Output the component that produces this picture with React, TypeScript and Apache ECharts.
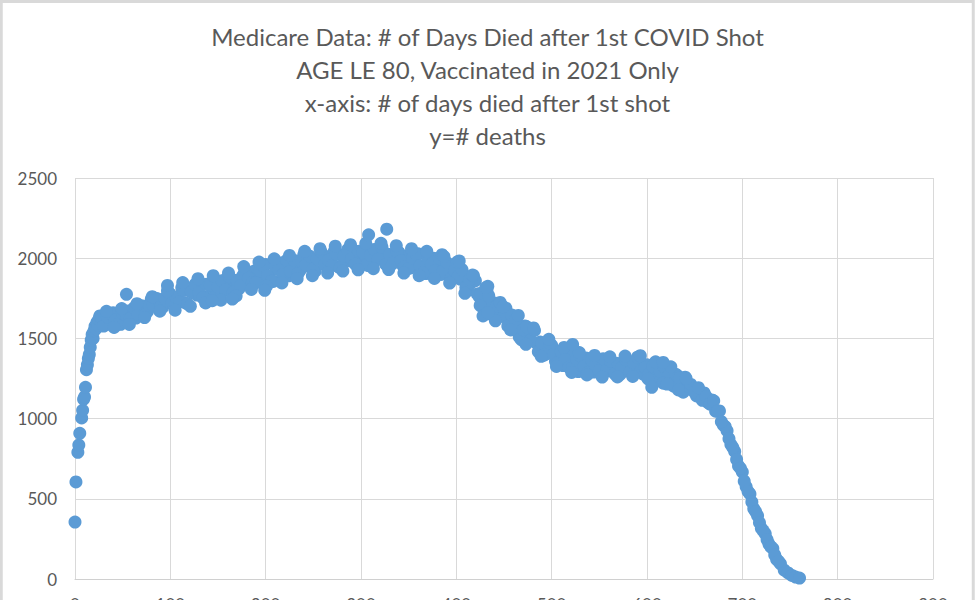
import React, { useEffect, useRef } from "react";
import * as echarts from "echarts";

const titleLines = [
  "Medicare Data: # of Days Died after 1st COVID Shot",
  "AGE LE 80, Vaccinated in 2021 Only",
  "x-axis: # of days died after 1st shot",
  "y=# deaths",
];

const xTicks = [0, 100, 200, 300, 400, 500, 600, 700, 800, 900];
const yTicks = [0, 500, 1000, 1500, 2000, 2500];

// days after 1st shot
const days = [
  0, 1, 3, 4, 5, 7, 8, 9, 10, 11, 12, 13, 14, 15, 16, 17, 18, 19, 20, 21, 22, 23, 24, 25, 26,
  28, 32, 36, 40, 44, 48, 52, 56, 60, 64, 68, 72, 76, 80, 84, 88, 92, 96, 100,
  104, 108, 112, 116, 120, 124, 128, 132, 136, 140, 144, 148, 152, 156, 160, 164, 168, 172, 176, 180, 184,
  188, 192, 196, 200, 204, 208, 212, 216, 220, 224, 228, 232, 236, 240, 244, 248, 252, 256, 260, 264,
  268, 272, 276, 280, 284, 288, 292, 296, 300, 304, 308, 312, 316, 320, 324, 328, 332, 336, 340, 344,
  348, 352, 356, 360, 364, 368, 372, 376, 380, 384, 388, 392, 396, 400,
  404, 408, 412, 416, 420, 424, 428, 432, 436, 440, 444, 448, 452, 456, 460, 464, 468, 472, 476, 480,
  484, 488, 492, 496, 500, 504, 508, 512, 516, 520,
  524, 528, 532, 536, 540, 544, 548, 552, 556, 560, 564, 568, 572, 576, 580, 584, 588, 592, 596, 600,
  604, 608, 612, 616, 620, 624, 628, 632, 636, 640,
  644, 648, 652, 656, 660, 664, 668, 672, 676, 680,
  684, 688, 692, 696, 700, 704, 708, 712, 716, 720, 724, 728, 732, 736, 740, 744, 748, 752, 756, 760,
  682, 686, 690, 694, 698, 702, 706, 710, 714, 718, 722, 726, 730, 734, 738,
  30, 34, 38, 42, 46, 50, 54, 58, 62, 66, 70, 74, 78, 82, 86, 90, 94, 98,
  102, 106, 110, 114, 118, 122, 126, 130, 134, 138, 142, 146, 150, 154, 158, 162, 166, 170, 174, 178, 182, 186,
  190, 194, 198, 202, 206, 210, 214, 218, 222, 226, 230, 234, 238, 242, 246, 250, 254, 258, 262, 266,
  270, 274, 278, 282, 286, 290, 294, 298, 302, 306, 310, 314, 318, 322, 326, 330, 334, 338, 342, 346,
  350, 354, 358, 362, 366, 370, 374, 378, 382, 386, 390, 394, 398,
  402, 406, 410, 414, 418, 422, 426, 430, 434, 438, 442, 446, 450, 454, 458, 462, 466, 470, 474, 478,
  482, 486, 490, 494, 498, 502, 506, 510, 514, 518,
  522, 526, 530, 534, 538, 542, 546, 550, 554, 558, 562, 566, 570, 574, 578, 582, 586, 590, 594, 598,
  602, 606, 610, 614, 618, 622, 626, 630, 634, 638,
  642, 646, 650, 654, 658, 662, 666, 670, 674, 678,
  33, 41, 49, 57, 65, 73, 81, 89, 97,
  105, 113, 121, 129, 137, 145, 153, 161, 169, 177, 185, 193, 201, 209, 217, 225, 233, 241, 249, 257,
  265, 273, 281, 289, 297, 305, 313, 321, 329, 337, 345, 353, 361, 369, 377, 385, 393, 401,
  409, 417, 425, 433, 441, 449, 457, 465, 473, 481, 489, 497, 505, 513, 521,
  529, 537, 545, 553, 561, 569, 577, 585, 593, 601, 609, 617, 625, 633, 641,
  54, 97, 199, 308, 327, 387, 403, 431, 428, 433, 522, 605, 621, 617, 165, 144,
];

// number of deaths on that day
const deaths = [
  355, 605, 790, 835, 908, 1004, 1052, 1120, 1135, 1195, 1305, 1335, 1375, 1400, 1445, 1490, 1525, 1500, 1548, 1575, 1560, 1600, 1585, 1620, 1640,
  1626, 1584, 1625, 1660, 1608, 1588, 1649, 1671, 1641, 1627, 1695, 1686, 1667, 1744, 1702, 1740, 1694, 1750, 1776,
  1725, 1755, 1816, 1722, 1798, 1784, 1770, 1841, 1760, 1835, 1820, 1754, 1853, 1795, 1880, 1822, 1857, 1810, 1891, 1916, 1849,
  1920, 1855, 1910, 1960, 1885, 1855, 1940, 1970, 1920, 1890, 1977, 1955, 1923, 2022, 1951, 1995, 1919, 1993, 2022, 1956,
  1985, 2044, 1948, 2020, 2002, 1984, 2051, 1968, 2040, 2022, 1954, 2050, 1990, 2069, 2002, 2025, 1961, 2025, 2034, 1953,
  2014, 1940, 1986, 2027, 1943, 1904, 1980, 2000, 1940, 1899, 1972, 1933, 1880, 1960,
  1870, 1895, 1800, 1850, 1860, 1760, 1765, 1800, 1665, 1720, 1680, 1638, 1688, 1573, 1633, 1588, 1493, 1578, 1493, 1560,
  1470, 1477, 1395, 1458, 1457, 1358, 1416, 1331, 1378, 1420,
  1329, 1293, 1362, 1378, 1324, 1290, 1357, 1329, 1292, 1375, 1307, 1345, 1276, 1340, 1360, 1298, 1325, 1373, 1277, 1335,
  1305, 1275, 1328, 1247, 1306, 1276, 1202, 1268, 1202, 1258,
  1190, 1192, 1141, 1167, 1160, 1099, 1116, 1046, 1048, 960,
  924, 838, 795, 705, 667, 575, 530, 438, 395, 315, 282, 217, 190, 122, 95, 55, 38, 22, 12, 6,
  950, 875, 820, 745, 690, 610, 545, 480, 420, 350, 300, 245, 200, 150, 110,
  1577, 1633, 1655, 1614, 1590, 1656, 1641, 1623, 1691, 1650, 1704, 1652, 1707, 1703, 1748, 1699, 1750, 1786,
  1726, 1757, 1728, 1799, 1715, 1791, 1837, 1783, 1753, 1837, 1832, 1757, 1821, 1859, 1802, 1883, 1787, 1863, 1830, 1916, 1875, 1847,
  1847, 1922, 1952, 1892, 1857, 1952, 1927, 1897, 1987, 1918, 1986, 1904, 1975, 1959, 2013, 1932, 1996, 2040, 1959, 1988,
  1957, 2026, 1939, 2011, 2053, 1995, 1962, 2044, 2036, 1958, 2019, 2055, 1994, 2068, 1961, 2023, 1973, 2042, 1986, 1946,
  1937, 2003, 2024, 1955, 1911, 1997, 1963, 1923, 2002, 1921, 1973, 1872, 1923,
  1888, 1928, 1818, 1867, 1891, 1777, 1783, 1720, 1766, 1644, 1701, 1724, 1637, 1578, 1646, 1616, 1508, 1554, 1572, 1487,
  1550, 1416, 1470, 1404, 1470, 1400, 1348, 1419, 1367, 1320,
  1317, 1373, 1390, 1326, 1286, 1364, 1334, 1299, 1373, 1303, 1357, 1279, 1340, 1321, 1365, 1291, 1347, 1383, 1303, 1319,
  1278, 1327, 1238, 1294, 1324, 1262, 1219, 1277, 1252, 1165,
  1205, 1213, 1163, 1193, 1114, 1137, 1091, 1111, 1047, 981,
  1669, 1568, 1686, 1587, 1716, 1630, 1760, 1670, 1797,
  1676, 1848, 1700, 1872, 1721, 1891, 1738, 1907, 1765, 1948, 1805, 1976, 1826, 1996, 1846, 2017, 1872, 2043, 1891, 2059,
  1907, 2075, 1920, 2084, 1928, 2092, 1935, 2093, 1929, 2078, 1907, 2059, 1891, 2043, 1874, 2022, 1845, 1976,
  1781, 1895, 1705, 1825, 1610, 1698, 1553, 1643, 1463, 1565, 1388, 1494, 1325, 1444, 1288,
  1412, 1272, 1394, 1259, 1385, 1260, 1390, 1263, 1392, 1248, 1354, 1221, 1323, 1179, 1250,
  1775, 1830, 1800, 2146, 2181, 2010, 1983, 1817, 1640, 1660, 1462, 1195, 1215, 1350, 1745, 1735,
];

const FONT = "Lato, 'Open Sans', sans-serif";
const TXT = "#595959";

export default function App() {
  const ref = useRef<HTMLDivElement>(null);

  useEffect(() => {
    if (!ref.current) return;
    const chart = echarts.init(ref.current, undefined, { renderer: "svg" });
    const points = days.map((d, i) => [d, deaths[i]]);
    chart.setOption({
      animation: false,
      backgroundColor: "#ffffff",
      title: {
        text: titleLines.join("\n"),
        left: "center",
        top: 20,
        padding: 0,
        textStyle: {
          fontFamily: FONT,
          fontSize: 24,
          lineHeight: 33,
          fontWeight: "normal",
          color: TXT,
        },
      },
      grid: { left: 75, right: 42, top: 178, bottom: 61, containLabel: false },
      xAxis: {
        type: "value",
        min: xTicks[0],
        max: xTicks[xTicks.length - 1],
        interval: 100,
        axisLine: { show: true, lineStyle: { color: "#d0d0d0", width: 1 } },
        axisTick: { show: false },
        splitLine: { show: true, lineStyle: { color: "#d9d9d9", width: 1 } },
        axisLabel: {
          color: TXT,
          fontFamily: FONT,
          fontSize: 17,
          margin: 17,
          formatter: (v: number) => String(v),
        },
      },
      yAxis: {
        type: "value",
        min: yTicks[0],
        max: yTicks[yTicks.length - 1],
        interval: 500,
        axisLine: { show: false },
        axisTick: { show: false },
        splitLine: { show: true, lineStyle: { color: "#d9d9d9", width: 1 } },
        axisLabel: {
          color: TXT,
          fontFamily: FONT,
          fontSize: 17,
          margin: 18,
          formatter: (v: number) => String(v),
        },
      },
      graphic: [
        {
          type: "rect",
          shape: { x: 1.25, y: 1.5, width: 972, height: 700 },
          style: { fill: "none", stroke: "#d9d9d9", lineWidth: 3 },
          silent: true,
          z: 100,
        },
      ],
      series: [
        {
          type: "scatter",
          data: points,
          symbol: "circle",
          symbolSize: 13,
          itemStyle: { color: "#5b9bd5", opacity: 1 },
        },
      ],
    });
    return () => chart.dispose();
  }, []);

  return (
    <div
      ref={ref}
      style={{ position: "fixed", left: 0, top: 0, width: 975, height: 640 }}
    />
  );
}
